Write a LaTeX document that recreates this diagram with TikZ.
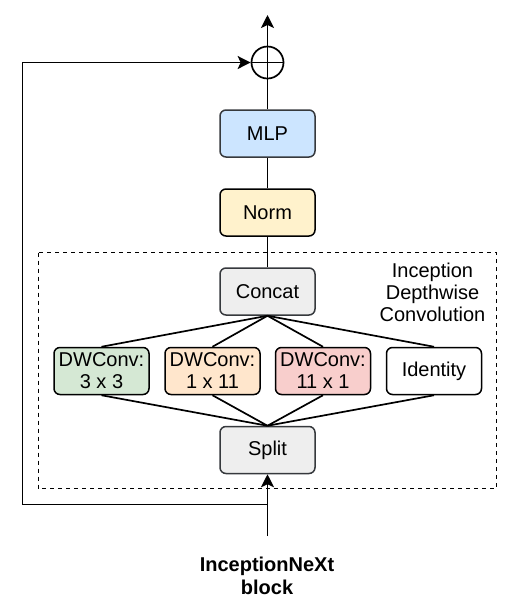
\documentclass[tikz,border=0pt]{standalone}
\usepackage{fontspec}
\setmainfont{Liberation Sans}
\usetikzlibrary{arrows.meta}

\definecolor{mlpblue}{HTML}{CCE5FF}
\definecolor{normyellow}{HTML}{FFF2CC}
\definecolor{catgray}{HTML}{EEEEEE}
\definecolor{dwgreen}{HTML}{D5E8D4}
\definecolor{dworange}{HTML}{FFE6CC}
\definecolor{dwred}{HTML}{F8CECC}
\definecolor{edgegray}{HTML}{36393D}

\begin{document}
\begin{tikzpicture}[x=0.5pt,y=-0.5pt,
  font=\fontsize{10}{11}\selectfont,
  blk/.style={draw=#1, line width=0.75pt, rounded corners=3pt,
    minimum width=47.5pt, minimum height=23.5pt, align=center, inner sep=1pt},
  blk/.default=black,
  conn/.style={line width=0.85pt},
  arr/.style={line width=0.85pt, -{Stealth[length=6.5pt,width=6.5pt,inset=1.5pt]}}]
\useasboundingbox (0,0) rectangle (514,612);
%\fill [gray!15] (0,0) rectangle (514,612);
\draw[line width=0.6pt, dash pattern=on 2pt off 2pt] (38.5,252.5) rectangle (496.5,488.5);
\node[align=center] (idwlabel) at (432.5,292) {Inception\\Depthwise\\Convolution};

\node[blk=edgegray, fill=mlpblue] (mlp) at (267.5,133.5) {MLP};
\node[blk, fill=normyellow] (norm) at (267.5,212.5) {Norm};
\node[blk=edgegray, fill=catgray] (concat) at (267.5,291.5) {Concat};
\node[blk=edgegray, fill=catgray] (split) at (267.5,450) {Split};

\node[blk, fill=dwgreen] (dw1) at (101.5,371) {DWConv:\\3 x 3};
\node[blk, fill=dworange] (dw2) at (212.5,371) {DWConv:\\1 x 11};
\node[blk, fill=dwred] (dw3) at (323,371) {DWConv:\\11 x 1};
\node[blk, fill=white] (dw4) at (434,371) {Identity};

\foreach \b in {dw1,dw2,dw3,dw4}
{
  \draw[conn] (concat.south) -- (\b.north);
  \draw[conn] (\b.south) -- (split.north);
}

\draw[conn] (concat.north) -- (norm.south);
\draw[conn] (norm.north) -- (mlp.south);

\node[circle, draw, line width=0.85pt, minimum size=16pt, inner sep=0pt] (add) at (267.5,62.5) {};
\draw[conn] (add.north) -- (add.south);
\draw[conn] (add.west) -- (add.east);
\draw[conn] (mlp.north) -- (add.south);
\coordinate (out) at (267.5,15);
\draw[arr] (add.north) -- (out);

\coordinate (in) at (267.5,536);
\coordinate (fork) at (267.5,504.5);
\draw[arr] (in) -- (split.south);
\draw[arr] (fork) -- (22.5,504.5) |- (add.west);

\node[font=\fontsize{10}{11.5}\selectfont\bfseries, align=center] (title) at (267,576) {InceptionNeXt\\block};
\end{tikzpicture}
\end{document}
